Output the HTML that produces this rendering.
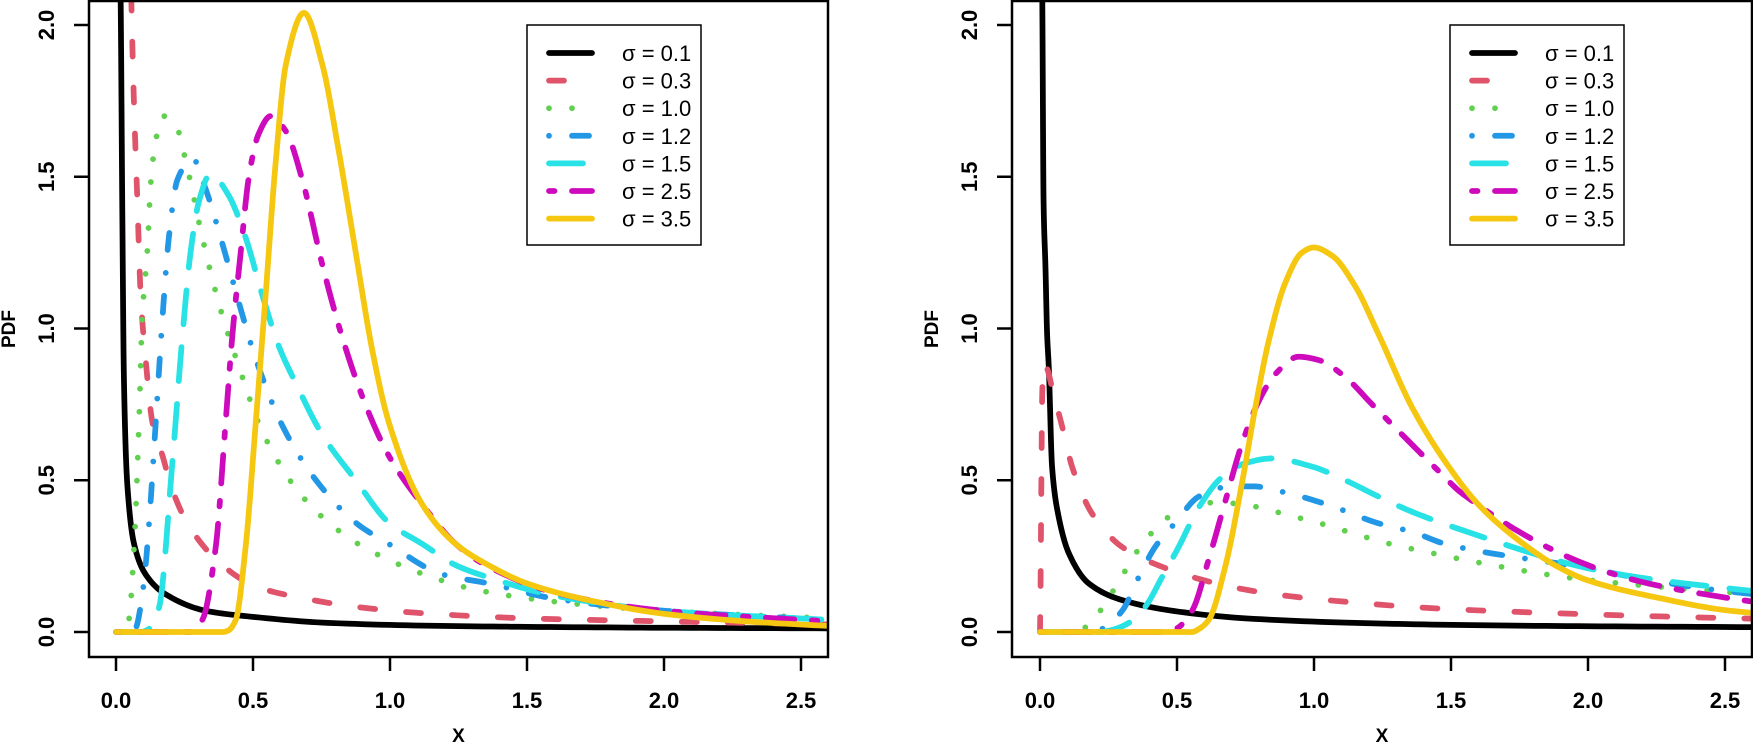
<!DOCTYPE html>
<html><head><meta charset="utf-8"><style>
html,body{margin:0;padding:0;background:#fff;}
svg{display:block;font-family:"Liberation Sans",sans-serif;}
</style></head><body>
<svg id="chart" width="1753" height="748" viewBox="0 0 1753 748" xmlns="http://www.w3.org/2000/svg">
<defs>
<clipPath id="clipL"><rect x="89" y="1" width="739" height="656"/></clipPath>
<clipPath id="clipR"><rect x="1012" y="1" width="740" height="656"/></clipPath>
</defs>
<g id="panelL"></g>
<g id="panelR"></g>
</svg>
<script>
const xTicks = [0, 0.5, 1.0, 1.5, 2.0, 2.5];
const xTickLabels = ["0.0","0.5","1.0","1.5","2.0","2.5"];
const yTicks = [0, 0.5, 1.0, 1.5, 2.0];
const yTickLabels = ["0.0","0.5","1.0","1.5","2.0"];
const seriesNames = ["σ = 0.1","σ = 0.3","σ = 1.0","σ = 1.2","σ = 1.5","σ = 2.5","σ = 3.5"];

// Left panel series
const L_x_s01 = [0.012,0.017,0.023,0.029,0.041,0.066,0.108,0.18,0.327,0.51,0.753,1.118,1.5,2.0,2.6];
const L_y_s01 = [2.4,2.08,1.39,0.83,0.49,0.29,0.19,0.125,0.07,0.049,0.031,0.021,0.017,0.014,0.012];
const L_x_s03 = [0.05,0.057,0.066,0.078,0.09,0.108,0.133,0.17,0.205,0.266,0.388,0.51,0.69,0.875,1.118,1.5,2.0,2.6];
const L_y_s03 = [2.4,2.04,1.73,1.42,1.11,0.90,0.69,0.58,0.47,0.35,0.22,0.15,0.11,0.083,0.062,0.045,0.035,0.025];
const L_x_s10 = [0,0.03,0.047,0.066,0.084,0.096,0.114,0.127,0.145,0.172,0.218,0.26,0.315,0.376,0.45,0.534,0.668,0.79,0.923,1.155,1.31,1.6,2.0,2.6];
const L_y_s10 = [0,0,0.04,0.28,0.69,1.04,1.25,1.48,1.62,1.70,1.67,1.53,1.30,1.08,0.87,0.66,0.46,0.35,0.27,0.18,0.14,0.1,0.07,0.045];
const L_x_s12 = [0,0.05,0.07,0.10,0.12,0.145,0.17,0.193,0.224,0.28,0.327,0.388,0.45,0.51,0.607,0.73,0.875,0.996,1.19,1.36,1.6,2.0,2.6];
const L_y_s12 = [0,0,0.01,0.15,0.35,0.69,1.04,1.30,1.49,1.56,1.46,1.28,1.08,0.90,0.68,0.50,0.36,0.29,0.19,0.16,0.11,0.07,0.04];
const L_x_s15 = [0,0.09,0.12,0.157,0.205,0.242,0.272,0.303,0.345,0.41,0.473,0.534,0.595,0.656,0.753,0.875,0.996,1.118,1.24,1.36,1.6,2.0,2.6];
const L_y_s15 = [0,0,0.01,0.08,0.55,0.97,1.25,1.42,1.51,1.44,1.30,1.11,0.94,0.82,0.65,0.50,0.36,0.29,0.22,0.18,0.12,0.07,0.04];
const L_x_s25 = [0,0.27,0.315,0.364,0.40,0.424,0.455,0.485,0.52,0.565,0.62,0.68,0.753,0.826,0.91,0.996,1.118,1.24,1.35,1.6,2.0,2.6];
const L_y_s25 = [0,0,0.04,0.28,0.69,0.97,1.25,1.5,1.64,1.70,1.65,1.49,1.21,0.97,0.75,0.58,0.42,0.29,0.22,0.13,0.07,0.035];
const L_x_s35 = [0,0.39,0.41,0.437,0.473,0.51,0.546,0.583,0.62,0.686,0.753,0.81,0.875,0.935,0.996,1.118,1.24,1.36,1.5,1.75,2.0,2.3,2.6];
const L_y_s35 = [0,0,0.005,0.04,0.28,0.69,1.11,1.55,1.87,2.04,1.87,1.6,1.25,0.93,0.69,0.42,0.29,0.22,0.16,0.1,0.06,0.035,0.02];

// Right panel series
const R_x_s01 = [0.006,0.009,0.013,0.02,0.026,0.032,0.044,0.068,0.105,0.178,0.30,0.506,0.75,1.114,1.54,2.0,2.6];
const R_y_s01 = [2.4,2.0,1.42,1.2,0.98,0.874,0.545,0.38,0.26,0.16,0.105,0.067,0.045,0.031,0.023,0.019,0.016];
const R_x_s03 = [0,0.002,0.005,0.008,0.013,0.025,0.045,0.08,0.117,0.19,0.3,0.445,0.6,0.76,0.93,1.11,1.42,1.94,2.45,2.6];
const R_y_s03 = [0,0.15,0.5,0.78,0.885,0.87,0.8,0.68,0.545,0.39,0.28,0.215,0.17,0.138,0.116,0.10,0.079,0.06,0.047,0.044];
const R_x_s10 = [0,0.1,0.165,0.22,0.263,0.31,0.354,0.406,0.463,0.543,0.62,0.70,0.786,0.87,0.95,1.03,1.114,1.27,1.43,1.52,1.94,2.27,2.6];
const R_y_s10 = [0,0,0.015,0.07,0.13,0.2,0.265,0.325,0.375,0.413,0.426,0.424,0.413,0.394,0.375,0.356,0.333,0.292,0.26,0.243,0.178,0.148,0.125];
const R_x_s12 = [0,0.18,0.226,0.30,0.36,0.42,0.494,0.579,0.676,0.774,0.907,1.054,1.236,1.358,1.48,2.0,2.17,2.47,2.6];
const R_y_s12 = [0,0,0.01,0.07,0.18,0.28,0.36,0.446,0.477,0.48,0.457,0.418,0.358,0.33,0.29,0.21,0.18,0.138,0.125];
const R_x_s15 = [0,0.22,0.263,0.324,0.384,0.445,0.506,0.579,0.664,0.749,0.847,0.993,1.114,1.236,1.358,1.54,2.0,2.2,2.5,2.6];
const R_y_s15 = [0,0,0.007,0.03,0.083,0.18,0.28,0.41,0.51,0.556,0.572,0.545,0.50,0.446,0.396,0.336,0.21,0.178,0.145,0.135];
const R_x_s25 = [0,0.44,0.494,0.555,0.616,0.676,0.737,0.798,0.859,0.944,1.017,1.114,1.212,1.333,1.455,1.54,2.0,2.22,2.49,2.6];
const R_y_s25 = [0,0,0.01,0.07,0.24,0.43,0.62,0.76,0.85,0.907,0.896,0.84,0.75,0.64,0.53,0.457,0.22,0.16,0.115,0.1];
const R_x_s35 = [0,0.555,0.58,0.616,0.676,0.737,0.786,0.835,0.895,0.956,0.999,1.066,1.15,1.236,1.358,1.48,1.6,1.75,1.9,2.0,2.27,2.5,2.6];
const R_y_s35 = [0,0,0.01,0.04,0.215,0.49,0.74,0.96,1.15,1.25,1.267,1.24,1.14,0.98,0.74,0.56,0.42,0.3,0.21,0.17,0.11,0.072,0.063];

const colors = ["#000000","#DF536B","#61D04F","#2297E6","#28E2E5","#CD0BBC","#F5C710"];
const dashes = ["", "15 31", "0 23", "0 23 17 23", "34 23", "5.5 17.5 28.5 17.5", ""];
const LW = 5.75;
const NS = "http://www.w3.org/2000/svg";

function mk(tag, attrs, parent){
  const e = document.createElementNS(NS, tag);
  for (const k in attrs) e.setAttribute(k, attrs[k]);
  parent.appendChild(e);
  return e;
}

function smoothPts(xs, ys){
  const n = xs.length;
  if (n < 3) return xs.map((x,i)=>[x,ys[i]]);
  const d = [], m = new Array(n);
  for (let i=0;i<n-1;i++) d.push((ys[i+1]-ys[i])/(xs[i+1]-xs[i]));
  m[0] = d[0]; m[n-1] = d[n-2];
  for (let i=1;i<n-1;i++){
    if (d[i-1]*d[i] <= 0) m[i] = 0;
    else { const w1 = 2*(xs[i+1]-xs[i]) + (xs[i]-xs[i-1]), w2 = (xs[i+1]-xs[i]) + 2*(xs[i]-xs[i-1]);
      m[i] = (w1+w2)/(w1/d[i-1] + w2/d[i]); }
  }
  const out = [];
  for (let i=0;i<n-1;i++){
    const h = xs[i+1]-xs[i];
    const steps = 12;
    for (let s=0;s<steps;s++){
      const t = s/steps, t2=t*t, t3=t2*t;
      const y = (2*t3-3*t2+1)*ys[i] + (t3-2*t2+t)*h*m[i] + (-2*t3+3*t2)*ys[i+1] + (t3-t2)*h*m[i+1];
      out.push([xs[i]+t*h, y]);
    }
  }
  out.push([xs[n-1], ys[n-1]]);
  return out;
}

function drawPanel(g, x0px, left, right, clipId, xsList, ysList, prefix){
  const sx = v => x0px + 274*v;
  const sy = v => 632 - 303.5*v;
  const sg = mk("g", {"clip-path":"url(#"+clipId+")"}, g);
  
  
  for (let i=0;i<xsList.length;i++){
    const pts = smoothPts(xsList[i], ysList[i]);
    let d = "";
    for (let j=0;j<pts.length;j++) d += (j?"L":"M") + sx(pts[j][0]).toFixed(2) + "," + sy(pts[j][1]).toFixed(2);
    const p = mk("path", {d:d, fill:"none", stroke:colors[i], "stroke-width":LW, "stroke-linecap":"round", "stroke-linejoin":"round"}, sg);
    if (dashes[i]) p.setAttribute("stroke-dasharray", dashes[i]);
    
    
  }
  const box = mk("rect", {x:left, y:1, width:right-left, height:656, fill:"none", stroke:"#000", "stroke-width":2.5}, g);
  
  
  for (let i=0;i<xTicks.length;i++){
    const x = sx(xTicks[i]);
    const t = mk("line", {x1:x, x2:x, y1:657, y2:671, stroke:"#000", "stroke-width":2.5}, g);
    
    
    const lb = mk("text", {x:x, y:708, "text-anchor":"middle", "font-size":22, "font-weight":"bold"}, g);
    lb.textContent = xTickLabels[i];
    
    
  }
  for (let i=0;i<yTicks.length;i++){
    const y = sy(yTicks[i]);
    const t = mk("line", {x1:left-15, x2:left, y1:y, y2:y, stroke:"#000", "stroke-width":2.5}, g);
    
    
    const lx = left-35;
    const lb = mk("text", {x:lx, y:y, "text-anchor":"middle", "font-size":22, "font-weight":"bold", transform:"rotate(-90 "+lx+" "+y+")"}, g);
    lb.textContent = yTickLabels[i];
    
    
  }
  const xt = mk("text", {x:(left+right)/2, y:742, "text-anchor":"middle", "font-size":19, "font-weight":"bold"}, g);
  xt.textContent = "X";
  
  
  const yx = left-74, yy = 329;
  const yt = mk("text", {x:yx, y:yy, "text-anchor":"middle", "font-size":19, "font-weight":"bold", transform:"rotate(-90 "+yx+" "+yy+")"}, g);
  yt.textContent = "PDF";
  
  
  const lg = mk("g", {}, g);
  
  
  const bx = left + 438;
  const lbox = mk("rect", {x:bx, y:25, width:174, height:220, fill:"#fff", stroke:"#000", "stroke-width":1.5}, lg);
  
  
  for (let i=0;i<seriesNames.length;i++){
    const y = 53 + i*27.6;
    const ent = mk("g", {}, lg);
    
    
    const ln = mk("line", {x1:bx+22, x2:bx+65, y1:y, y2:y, stroke:colors[i], "stroke-width":LW, "stroke-linecap":"round"}, ent);
    if (dashes[i]) ln.setAttribute("stroke-dasharray", dashes[i]);
    const tx = mk("text", {x:bx+95, y:y+8, "font-size":22}, ent);
    tx.textContent = seriesNames[i];
  }
}

drawPanel(document.getElementById("panelL"), 116, 89, 828, "clipL",
  [L_x_s01,L_x_s03,L_x_s10,L_x_s12,L_x_s15,L_x_s25,L_x_s35],
  [L_y_s01,L_y_s03,L_y_s10,L_y_s12,L_y_s15,L_y_s25,L_y_s35], "left");
drawPanel(document.getElementById("panelR"), 1040, 1012, 1752, "clipR",
  [R_x_s01,R_x_s03,R_x_s10,R_x_s12,R_x_s15,R_x_s25,R_x_s35],
  [R_y_s01,R_y_s03,R_y_s10,R_y_s12,R_y_s15,R_y_s25,R_y_s35], "right");
</script>
</body></html>
